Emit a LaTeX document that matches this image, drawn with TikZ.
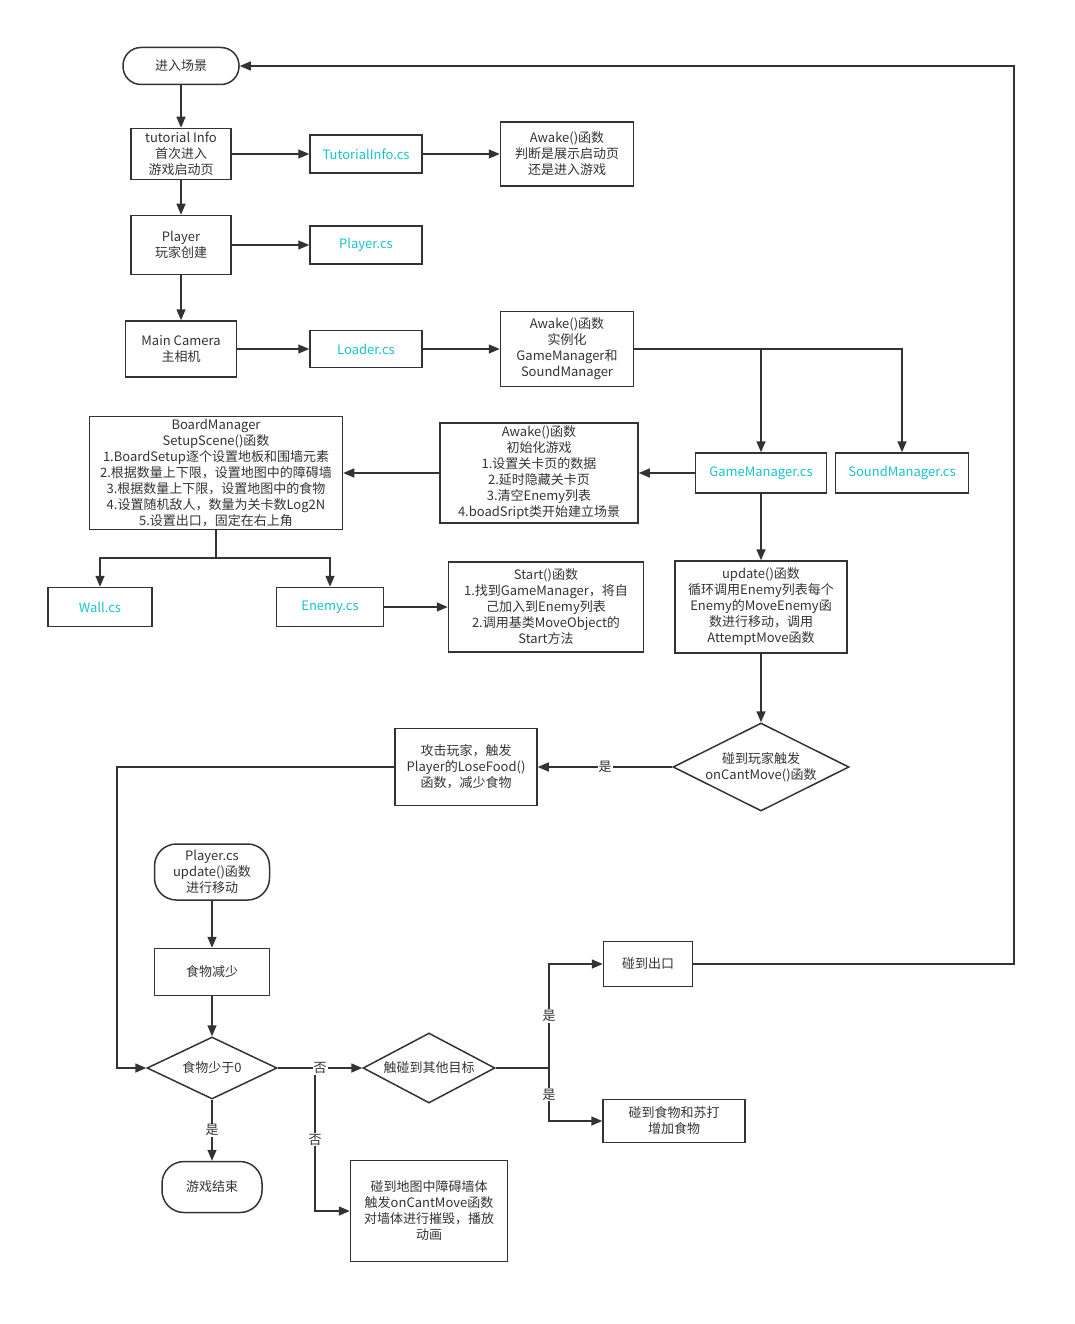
\documentclass[tikz,border=0pt]{standalone}
\usepackage{fontspec}
\setmainfont{Noto Sans CJK SC}
\usetikzlibrary{arrows.meta,shapes.geometric}
\definecolor{ink}{HTML}{333333}
\definecolor{cstext}{HTML}{17C3CB}

\begin{document}
\begin{tikzpicture}[
    x=1pt, y=-1pt,
    font=\fontsize{13}{16}\selectfont,
    box/.style={draw=ink, line width=1.5pt, text=ink, align=center, inner sep=0pt},
    csbox/.style={box, text=cstext},
    term/.style={box, rounded corners=#1},
    dia/.style={draw=ink, line width=1.5pt, text=ink, align=center, diamond, aspect=2, inner sep=0pt},
    arrow/.style={-{Triangle[length=11pt, width=9pt]}, line width=1.5pt, draw=ink},
    line/.style={line width=1.5pt, draw=ink},
    lbl/.style={fill=white, text=ink, inner sep=1pt}
  ]
    \useasboundingbox (0,0) rectangle (1075,1324);

    \node[term=18pt, minimum width=116pt, minimum height=37pt] (enter) at (181,66) {进入场景};
    \node[box, minimum width=100pt, minimum height=51pt] (tut) at (181,154) {tutorial Info\\首次进入\\游戏启动页};
    \node[csbox, minimum width=112pt, minimum height=38pt] (tutcs) at (366,154) {TutorialInfo.cs};
    \node[box, minimum width=133pt, minimum height=64pt] (awakeA) at (567,154) {Awake()函数\\判断是展示启动页\\还是进入游戏};
    \node[box, minimum width=100pt, minimum height=59pt] (player) at (181,245) {Player\\玩家创建};
    \node[csbox, minimum width=112pt, minimum height=38pt] (playercs) at (366,245) {Player.cs};
    \node[box, minimum width=111pt, minimum height=56pt] (camera) at (181,349) {Main Camera\\主相机};
    \node[csbox, minimum width=112pt, minimum height=37pt] (loader) at (366,349) {Loader.cs};
    \node[box, minimum width=133pt, minimum height=75pt] (awakeB) at (567,349) {Awake()函数\\实例化\\GameManager和\\SoundManager};
    \node[csbox, minimum width=131pt, minimum height=40pt] (game) at (761,473) {GameManager.cs};
    \node[csbox, minimum width=133pt, minimum height=40pt] (sound) at (902,473) {SoundManager.cs};
    \node[box, minimum width=198pt, minimum height=100pt] (awakeC) at (539,473) {Awake()函数\\初始化游戏\\1.设置关卡页的数据\\2.延时隐藏关卡页\\3.清空Enemy列表\\4.boadSript类开始建立场景};
    \node[box, minimum width=253pt, minimum height=113pt] (board) at (216,473) {BoardManager\\SetupScene()函数\\1.BoardSetup逐个设置地板和围墙元素\\2.根据数量上下限，设置地图中的障碍墙\\3.根据数量上下限，设置地图中的食物\\4.设置随机敌人，数量为关卡数Log2N\\5.设置出口，固定在右上角};
    \node[csbox, minimum width=104pt, minimum height=39pt] (wall) at (100,607) {Wall.cs};
    \node[csbox, minimum width=107pt, minimum height=39pt] (enemy) at (330,607) {Enemy.cs};
    \node[box, minimum width=195pt, minimum height=90pt] (start) at (546,607) {Start()函数\\1.找到GameManager，将自\\己加入到Enemy列表\\2.调用基类MoveObject的\\Start方法};
    \node[box, minimum width=172pt, minimum height=92pt] (update) at (761,607) {update()函数\\循环调用Enemy列表每个\\Enemy的MoveEnemy函\\数进行移动，调用\\AttemptMove函数};
    \node[dia, minimum width=176pt, minimum height=88pt, inner sep=-2pt] (hitplayer) at (761,767) {碰到玩家触发\\onCantMove()函数};
    \node[box, minimum width=142pt, minimum height=77pt] (attack) at (466,767) {攻击玩家，触发\\Player的LoseFood()\\函数，减少食物};
    \node[term=22pt, minimum width=115pt, minimum height=56pt] (pmove) at (212,872) {Player.cs\\update()函数\\进行移动};
    \node[box, minimum width=115pt, minimum height=47pt] (foodless) at (212,972) {食物减少};
    \node[dia, minimum width=130pt, minimum height=62pt] (zero) at (212,1068) {食物少于0};
    \node[term=22pt, minimum width=100pt, minimum height=51pt] (over) at (212,1187) {游戏结束};
    \node[dia, minimum width=132pt, minimum height=70pt] (touch) at (429,1068) {触碰到其他目标};
    \node[box, minimum width=89pt, minimum height=45pt] (exit) at (648,964) {碰到出口};
    \node[box, minimum width=142pt, minimum height=43pt] (food) at (674,1121) {碰到食物和苏打\\增加食物};
    \node[box, minimum width=157pt, minimum height=101pt] (wallhit) at (429,1211) {碰到地图中障碍墙体\\触发onCantMove函数\\对墙体进行摧毁，播放\\动画};

    \coordinate (split) at (216,558);
    \coordinate (loopL) at (117,767);
    \coordinate (nofork) at (315,1068);
    \coordinate (yesfork) at (549,1068);
    \coordinate (back) at (1014,66);

    \draw[arrow] (enter) -- (tut);
    \draw[arrow] (tut) -- (tutcs);
    \draw[arrow] (tutcs) -- (awakeA);
    \draw[arrow] (tut) -- (player);
    \draw[arrow] (player) -- (playercs);
    \draw[arrow] (player) -- (camera);
    \draw[arrow] (camera) -- (loader);
    \draw[arrow] (loader) -- (awakeB);
    \draw[arrow] (awakeB.east) -| (sound.north);
    \draw[arrow] (awakeB.east -| game.north) -- (game.north);
    \draw[arrow] (game) -- (awakeC);
    \draw[arrow] (awakeC) -- (board);
    \draw[line] (board) -- (split);
    \draw[arrow] (split) -| (wall);
    \draw[arrow] (split) -| (enemy);
    \draw[arrow] (enemy) -- (start);
    \draw[arrow] (game) -- (update);
    \draw[arrow] (update) -- (hitplayer);
    \draw[arrow] (hitplayer) -- node[lbl]{是} (attack);
    \draw[arrow] (attack) -- (loopL) |- (zero);
    \draw[arrow] (pmove) -- (foodless);
    \draw[arrow] (foodless) -- (zero);
    \draw[arrow] (zero) -- node[lbl]{是} (over);
    \draw[arrow] (nofork) |- node[lbl, pos=0.25]{否} (wallhit);
    \draw[arrow] (zero) -- node[lbl]{否} (touch);
    \draw[line] (touch) -- (yesfork);
    \draw[arrow] (yesfork) |- node[lbl, pos=0.25]{是} (exit);
    \draw[arrow] (yesfork) |- node[lbl, pos=0.25]{是} (food);
    \draw[arrow] (exit) -| (back) -- (enter);
  \end{tikzpicture}
\end{document}
